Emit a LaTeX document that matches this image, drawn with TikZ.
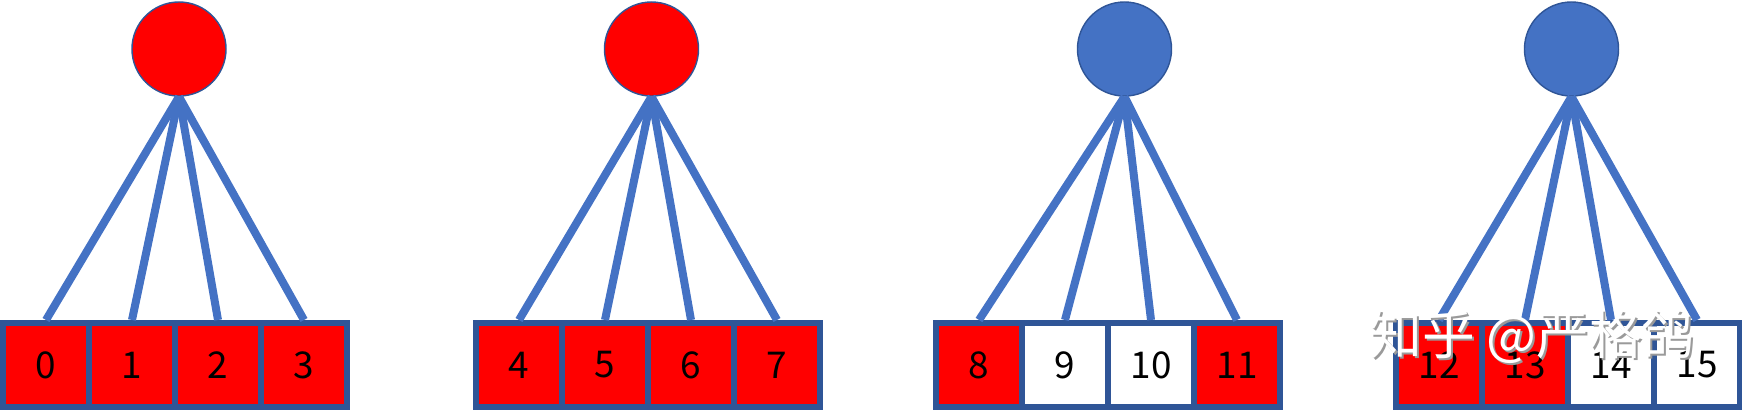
\documentclass[tikz,border=0pt]{standalone}
\usepackage{fontspec}
\setmainfont{Noto Sans CJK SC}
\usepackage{tikz}
\definecolor{linkblue}{HTML}{4472C4}
\definecolor{edgeblue}{HTML}{2F5597}
\definecolor{shadowgray}{HTML}{9A9A9A}
\tikzstyle{rvertex}=[circle,fill=red,draw=edgeblue,line width=0.4pt,minimum size=0.94cm,inner sep=0pt]
\tikzstyle{bvertex}=[circle,fill=linkblue,draw=edgeblue,line width=0.4pt,minimum size=0.94cm,inner sep=0pt]
\tikzstyle{rcell}=[rectangle,fill=red,draw=edgeblue,line width=0.06cm,minimum width=0.86cm,minimum height=0.84cm,inner sep=0pt,font=\fontsize{10.5}{12}\selectfont]
\tikzstyle{wcell}=[rcell,fill=white]
\tikzstyle{link}=[linkblue,line width=0.08cm]

\begin{document}
\begin{tikzpicture}[x=0.01cm,y=-0.01cm]
    \useasboundingbox (0,0) rectangle (1742,411);
%   roots
    \node[rvertex] (r0) at (179,49)    {};
    \node[rvertex] (r1) at (651.5,49)  {};
    \node[bvertex] (r2) at (1124.5,49) {};
    \node[bvertex] (r3) at (1571.5,49) {};
%   group 0
    \node[rcell] (c0) at (46,365)  {0};
    \node[rcell] (c1) at (132,365) {1};
    \node[rcell] (c2) at (218,365) {2};
    \node[rcell] (c3) at (304,365) {3};
%   group 1
    \node[rcell] (c4) at (519,365) {4};
    \node[rcell] (c5) at (605,365) {5};
    \node[rcell] (c6) at (691,365) {6};
    \node[rcell] (c7) at (777,365) {7};
%   group 2
    \node[rcell] (c8)  at (979,365)  {8};
    \node[wcell] (c9)  at (1065,365) {9};
    \node[wcell] (c10) at (1151,365) {10};
    \node[rcell] (c11) at (1237,365) {11};
%   group 3
    \node[rcell] (c12) at (1439,365) {12};
    \node[rcell] (c13) at (1525,365) {13};
    \node[wcell] (c14) at (1611,365) {14};
    \node[wcell] (c15) at (1697,365) {15};

    \draw[link] (r0.south) -- (c0.north);
    \draw[link] (r0.south) -- (c1.north);
    \draw[link] (r0.south) -- (c2.north);
    \draw[link] (r0.south) -- (c3.north);
    \draw[link] (r1.south) -- (c4.north);
    \draw[link] (r1.south) -- (c5.north);
    \draw[link] (r1.south) -- (c6.north);
    \draw[link] (r1.south) -- (c7.north);
    \draw[link] (r2.south) -- (c8.north);
    \draw[link] (r2.south) -- (c9.north);
    \draw[link] (r2.south) -- (c10.north);
    \draw[link] (r2.south) -- (c11.north);
    \draw[link] (r3.south) -- (c12.north);
    \draw[link] (r3.south) -- (c13.north);
    \draw[link] (r3.south) -- (c14.north);
    \draw[link] (r3.south) -- (c15.north);

%   watermark
    \node[text=shadowgray,font=\fontsize{15}{18}\selectfont] (wms) at (1534,339) {知乎 @严格鸽};
    \node[text=white,font=\fontsize{15}{18}\selectfont] (wm) at (1532,337) {知乎 @严格鸽};
\end{tikzpicture}
\end{document}
